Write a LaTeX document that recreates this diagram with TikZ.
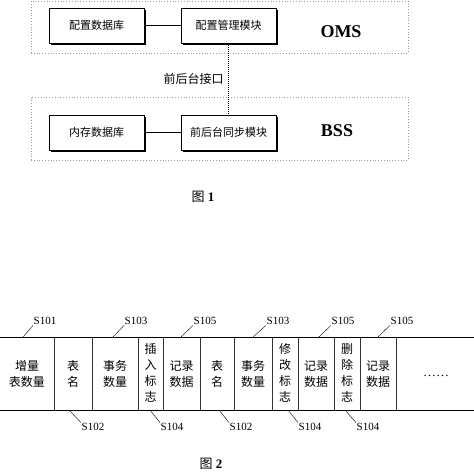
\documentclass[tikz,border=0pt]{standalone}
\usepackage{fontspec}
\setmainfont{Liberation Serif}
\newfontfamily\cjk{Noto Sans CJK SC}
\usetikzlibrary{shadows}

\tikzset{
  module/.style={draw, line width=0.8pt, fill=white, minimum width=95pt,
    minimum height=35pt, inner sep=0pt, font=\cjk\fontsize{11}{13}\selectfont,
    drop shadow={shadow xshift=1.8pt, shadow yshift=-1.8pt, fill=black, opacity=1}},
  area/.style={draw=gray!75, dotted, line width=0.8pt, inner sep=0pt},
  system/.style={font=\fontsize{18}{20}\selectfont\bfseries},
  cell/.style={align=center, inner sep=0pt, font=\cjk\fontsize{12}{16}\selectfont},
  tag/.style={inner sep=0.5pt, font=\fontsize{11}{13}\selectfont},
  leader/.style={line width=0.4pt},
  caption/.style={font=\fontsize{13}{15}\selectfont},
}

\begin{document}
\begin{tikzpicture}[x=1pt, y=-1pt]
  \useasboundingbox (0,0) rectangle (474,472);

  % figure 1
  \node[area, minimum width=377pt, minimum height=52pt] (omsarea) at (219.5,27) {};
  \node[area, minimum width=377pt, minimum height=63pt] (bssarea) at (219.5,128.5) {};
  \node[module] (cfgdb) at (96.5,25.5) {配置数据库};
  \node[module] (cfgmgr) at (228.5,25.5) {配置管理模块};
  \node[module] (memdb) at (96.5,132.5) {内存数据库};
  \node[module] (syncmod) at (228.5,132.5) {前后台同步模块};
  \node[system] (oms) at (341,32) {OMS};
  \node[system] (bss) at (337,131) {BSS};
  \draw[line width=0.6pt] (cfgdb) -- (cfgmgr);
  \draw[line width=0.6pt] (memdb) -- (syncmod);
  \draw[densely dotted, line width=1pt] (cfgmgr.south) -- (syncmod.north)
    node[midway, left=1pt, font=\cjk\fontsize{12}{14}\selectfont] (iface) {前后台接口};
  \node[caption] (fig1) at (203,197) {{\cjk 图}\ \textbf{1}};

  % figure 2
  \draw[line width=0.6pt] (0,337) -- (474,337) (0,410) -- (474,410);
  \foreach \x in {54,92,138,163,200,234,272,298,334,360,396}
    \draw[line width=0.6pt, black!80] (\x,337) -- (\x,410);
  \node[cell] (c1) at (27,374) {增量\\表数量};
  \node[cell] (c2) at (73,374) {表\\名};
  \node[cell] (c3) at (115,374) {事务\\数量};
  \node[cell] (c4) at (150.5,373) {插\\入\\标\\志};
  \node[cell] (c5) at (181.5,374) {记录\\数据};
  \node[cell] (c6) at (217,374) {表\\名};
  \node[cell] (c7) at (253,374) {事务\\数量};
  \node[cell] (c8) at (285,373) {修\\改\\标\\志};
  \node[cell] (c9) at (316,374) {记录\\数据};
  \node[cell] (c10) at (347,373) {删\\除\\标\\志};
  \node[cell] (c11) at (378,374) {记录\\数据};
  \node[font=\fontsize{13}{15}\selectfont] (c12) at (436,376) {……};

  \node[tag] (s101) at (45,321) {S101};
  \node[tag] (s103a) at (136,321) {S103};
  \node[tag] (s105a) at (205,321) {S105};
  \node[tag] (s103b) at (278,321) {S103};
  \node[tag] (s105b) at (343,321) {S105};
  \node[tag] (s105c) at (402,321) {S105};
  \node[tag] (s102a) at (93,427) {S102};
  \node[tag] (s104a) at (172,427) {S104};
  \node[tag] (s102b) at (241,427) {S102};
  \node[tag] (s104b) at (310,427) {S104};
  \node[tag] (s104c) at (368,427) {S104};

  \coordinate (e101) at (23,337);
  \coordinate (e103a) at (113,337);
  \coordinate (e105a) at (181,337);
  \coordinate (e103b) at (253,337);
  \coordinate (e105b) at (319,337);
  \coordinate (e105c) at (378,337);
  \coordinate (e102a) at (69,410);
  \coordinate (e104a) at (150,410);
  \coordinate (e102b) at (219,410);
  \coordinate (e104b) at (288,410);
  \coordinate (e104c) at (345,410);

  \draw[leader] (e101) -- (s101.south west);
  \draw[leader] (e103a) -- (s103a.south west);
  \draw[leader] (e105a) -- (s105a.south west);
  \draw[leader] (e103b) -- (s103b.south west);
  \draw[leader] (e105b) -- (s105b.south west);
  \draw[leader] (e105c) -- (s105c.south west);
  \draw[leader] (e102a) -- (s102a.north west);
  \draw[leader] (e104a) -- (s104a.north west);
  \draw[leader] (e102b) -- (s102b.north west);
  \draw[leader] (e104b) -- (s104b.north west);
  \draw[leader] (e104c) -- (s104c.north west);

  \node[caption] (fig2) at (211,464) {{\cjk 图}\ \textbf{2}};
\end{tikzpicture}
\end{document}
